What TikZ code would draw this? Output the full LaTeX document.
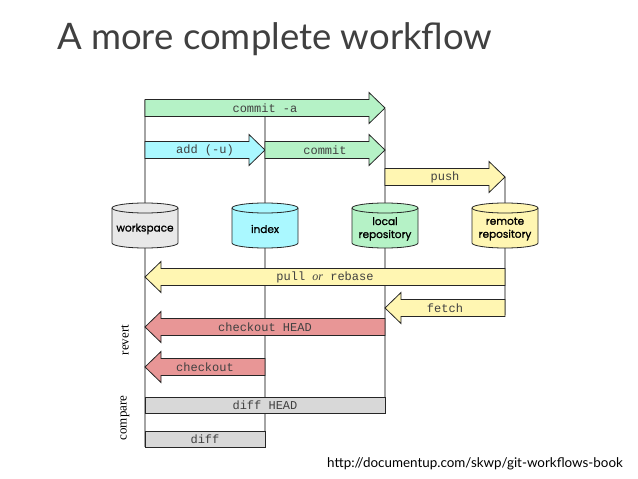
\documentclass[tikz,border=0pt]{standalone}
\usepackage{fontspec}
\setmainfont{Lato}
\newfontfamily\cylfont[FakeBold=1.2]{Poppins}
\newfontfamily\codefont{Liberation Mono}
\newfontfamily\seriffont{Liberation Serif}
\definecolor{gline}{HTML}{A4A4A4}
\definecolor{cgreen}{HTML}{B5F2C6}
\definecolor{ccyan}{HTML}{AAF8FF}
\definecolor{cyellow}{HTML}{FFF6B2}
\definecolor{cred}{HTML}{E89696}
\definecolor{cgray}{HTML}{D8D8D8}
\definecolor{cws}{HTML}{E8E8E8}
\definecolor{txt}{HTML}{404040}
\tikzset{
  vline/.style={draw=gline, line width=2.6pt},
  fatarrow/.style={draw=black!85, line width=0.8pt},
  codelbl/.style={font=\codefont\fontsize{12}{13}\selectfont, text=txt, inner sep=0pt},
  cylline/.style={draw=black!85, line width=0.8pt},
  cyllbl/.style={font=\cylfont\fontsize{10.5}{13}\selectfont, text=black, align=center, inner sep=0pt},
  sidelbl/.style={font=\seriffont\fontsize{13}{15}\selectfont, text=black, rotate=90, inner sep=0pt},
}
\newcommand{\FatRight}[6]{%
  \draw[fatarrow, fill=#5] ({#2},{#4+8.5}) -- ({#3-16},{#4+8.5}) -- ({#3-16},{#4+15.5}) -- ({#3},{#4}) -- ({#3-16},{#4-15.5}) -- ({#3-16},{#4-8.5}) -- ({#2},{#4-8.5}) -- cycle;
  \node[codelbl] (#1) at ({(#2+#3)/2},{#4}) {#6};}
\newcommand{\FatLeft}[6]{%
  \draw[fatarrow, fill=#5] ({#3},{#4+8.5}) -- ({#2+16},{#4+8.5}) -- ({#2+16},{#4+15.5}) -- ({#2},{#4}) -- ({#2+16},{#4-15.5}) -- ({#2+16},{#4-8.5}) -- ({#3},{#4-8.5}) -- cycle;
  \node[codelbl] (#1) at ({(#2+#3)/2},{#4}) {#6};}
\newcommand{\FlatBar}[6]{%
  \draw[fatarrow, fill=#5] ({#2},{#4+8}) rectangle ({#3},{#4-8});
  \node[codelbl] (#1) at ({(#2+#3)/2},{#4}) {#6};}
\newcommand{\Cyl}[4]{%
  \draw[cylline, fill=#3] ({#2-33},-208) -- ({#2-33},-243) arc[start angle=180, end angle=360, x radius=33, y radius=5] -- ({#2+33},-208) arc[start angle=0, end angle=180, x radius=33, y radius=5] -- cycle;
  \draw[cylline] ({#2-33},-208) arc[start angle=180, end angle=360, x radius=33, y radius=5];
  \node[cyllbl] (#1) at (#2,-229) {#4};}
\begin{document}
\begin{tikzpicture}[x=1pt,y=1pt]
\useasboundingbox (0,0) rectangle (638,-479);
\fill[white] (0,0) rectangle (638,-479);
% title
\node[anchor=base west, inner sep=0pt, font=\fontsize{36.5}{40}\selectfont, text=txt] (title) at (57,-49) {A more complete workflow};
% vertical lines
\coordinate (wsT) at (145,-100); \coordinate (wsB) at (145,-447);
\coordinate (ixT) at (265,-117); \coordinate (ixB) at (265,-447);
\coordinate (lcT) at (385,-109); \coordinate (lcB) at (385,-413);
\coordinate (rmT) at (505,-177); \coordinate (rmB) at (505,-315);
\draw[vline] (wsT) -- (wsB);
\draw[vline] (ixT) -- (ixB);
\draw[vline] (lcT) -- (lcB);
\draw[vline] (rmT) -- (rmB);
% arrows
\FatRight{commita}{145}{385}{-108}{cgreen}{commit -a}
\FatRight{add}{145}{265}{-150}{ccyan}{add (-u)}
\FatRight{commit}{265}{385}{-150}{cgreen}{commit}
\FatRight{push}{385}{505}{-177}{cyellow}{push}
\FatLeft{pull}{145}{505}{-277}{cyellow}{pull {\seriffont\itshape or} rebase}
\FatLeft{fetch}{385}{505}{-308}{cyellow}{fetch}
\FatLeft{cohead}{145}{385}{-327}{cred}{checkout HEAD}
\FatLeft{co}{145}{265}{-367}{cred}{checkout}
\FlatBar{diffhead}{145}{385}{-405.5}{cgray}{diff HEAD}
\FlatBar{diff}{145}{265}{-439}{cgray}{diff}
% cylinders
\Cyl{ws}{145}{cws}{workspace}
\Cyl{ix}{265}{ccyan}{index}
\Cyl{lc}{385}{cgreen}{local\\repository}
\Cyl{rm}{505}{cyellow}{remote\\repository}
% side labels
\node[sidelbl] (revert) at (125,-340) {revert};
\node[sidelbl] (compare) at (125,-418) {compare};
% url
\node[anchor=base west, inner sep=0pt, font=\fontsize{13.4}{15}\selectfont, text=black] (url) at (327,-467) {http://documentup.com/skwp/git-workflows-book};
\end{tikzpicture}
\end{document}
